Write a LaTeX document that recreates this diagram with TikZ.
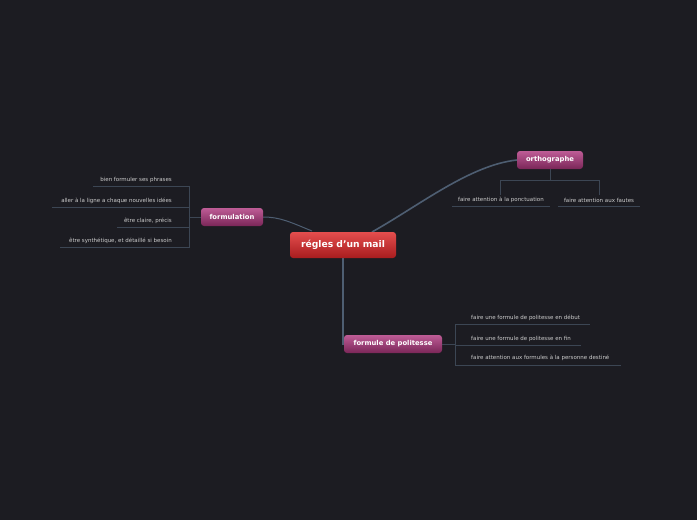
\documentclass[tikz,border=0pt]{standalone}
\usepackage{fontspec}
\setmainfont{DejaVu Sans}
\definecolor{bg}{RGB}{28,28,34}
\definecolor{cn}{RGB}{78,94,114}
\definecolor{bl}{RGB}{60,70,84}
\definecolor{tt}{RGB}{190,92,150}
\definecolor{tb}{RGB}{122,38,88}
\definecolor{mt}{RGB}{228,78,78}
\definecolor{mb}{RGB}{168,28,30}
\begin{document}
\begin{tikzpicture}[x=1pt,y=-1pt,
  main/.style={draw=none,rounded corners=3pt,top color=mt,bottom color=mb,text=white,font=\bfseries\fontsize{9.2}{10}\selectfont,minimum width=106pt,minimum height=26pt,inner sep=0pt},
  topic/.style={rounded corners=3pt,top color=tt,bottom color=tb,text=white,font=\bfseries\fontsize{6.8}{7}\selectfont,inner sep=0pt,minimum height=18pt},
  leaf/.style={text=white!80!black,font=\fontsize{5.5}{6}\selectfont,inner sep=0pt},
  conn/.style={draw=cn,line width=1.6pt},
  br/.style={draw=bl,line width=0.6pt}]
\fill[bg] (0,0) rectangle (697,520);
\useasboundingbox (0,0) rectangle (697,520);
\draw[conn] (372,232) .. controls (420,205) and (470,165) .. (517,160);
\draw[conn,line width=1pt] (312,231) .. controls (290,222) and (280,217) .. (263,217);
\draw[conn] (343,258) -- (343,344) -- (345,344);
\node[main] (c) at (343,245) {régles d'un mail};
\node[topic,minimum width=62pt] (f) at (232,217) {formulation};
\node[topic,minimum width=66pt] (o) at (550,160) {orthographe};
\node[topic,minimum width=98pt] (p) at (393,344) {formule de politesse};
% formulation leaves
\draw[br] (f.west) -- (189,217);
\draw[br] (93,186) -- (189,186) -- (189,247) -- (60,247);
\draw[br] (52,207) -- (189,207);
\draw[br] (117,227) -- (189,227);
\node[leaf,anchor=east] (f1) at (172,180) {bien formuler ses phrases};
\node[leaf,anchor=east] (f2) at (172,201) {aller à la ligne a chaque nouvelles idées};
\node[leaf,anchor=east] (f3) at (172,221) {être claire, précis};
\node[leaf,anchor=east] (f4) at (172,241) {être synthétique, et détaillé si besoin};
% orthographe leaves
\draw[br] (o.south) -- (550,180);
\draw[br] (500,195) -- (500,180) -- (599,180) -- (599,195);
\draw[br] (452,206) -- (550,206);
\draw[br] (558,206) -- (640,206);
\node[leaf] (o1) at (501,200) {faire attention à la ponctuation};
\node[leaf] (o2) at (599,200) {faire attention aux fautes};
% politesse leaves
\draw[br] (p.east) -- (455,344);
\draw[br] (590,324) -- (455,324) -- (455,365) -- (621,365);
\draw[br] (455,345) -- (581,345);
\node[leaf,anchor=west] (p1) at (471,318) {faire une formule de politesse en début};
\node[leaf,anchor=west] (p2) at (471,339) {faire une formule de politesse en fin};
\node[leaf,anchor=west] (p3) at (471,358) {faire attention aux formules à la personne destiné};
\end{tikzpicture}
\end{document}
